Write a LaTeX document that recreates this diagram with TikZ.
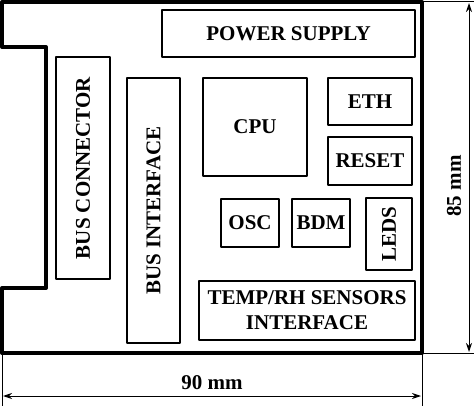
\documentclass[tikz,border=0pt]{standalone}
\usepackage{fontspec}
\setmainfont{Liberation Serif}
\usetikzlibrary{arrows.meta}
\begin{document}
\begin{tikzpicture}[x=1pt,y=-1pt,line join=round,>={Stealth[length=9pt,width=6pt]},thick]
	\tikzset{every node/.style={font=\fontsize{21}{25}\selectfont\bfseries},
		blk/.style={draw,line width=2.5pt,inner sep=0pt,align=center},
		dimline/.style={line width=1pt}}
	\useasboundingbox (0,0) rectangle (474,406);
	% board outline
	\draw[line width=4pt] (2,2)--(422,2)--(422,353)--(2,353)--(2,288)--(46,288)--(46,47)--(2,47)--cycle;
	% blocks
	\node[blk,minimum width=253,minimum height=47] (power) at (288.5,33.5) {POWER SUPPLY};
	\node[blk,rotate=90,minimum width=222,minimum height=54] (busconn) at (83,168) {BUS CONNECTOR};
	\node[blk,rotate=90,minimum width=265,minimum height=53] (busif) at (153.5,210.5) {BUS INTERFACE};
	\node[blk,minimum width=104,minimum height=98] (cpu) at (255,127) {CPU};
	\node[blk,minimum width=84,minimum height=47] (eth) at (370,101.5) {ETH};
	\node[blk,minimum width=84,minimum height=48] (reset) at (370,161) {RESET};
	\node[blk,minimum width=58,minimum height=48] (osc) at (250,223) {OSC};
	\node[blk,minimum width=58,minimum height=48] (bdm) at (321,223) {BDM};
	\node[blk,rotate=90,minimum width=72,minimum height=46] (leds) at (389,234) {LEDS};
	\node[blk,minimum width=216,minimum height=59] (sensors) at (307,310.5) {TEMP/RH SENSORS\\INTERFACE};
	% dimensions
	\coordinate (wl) at (3,396);
	\coordinate (wr) at (421,396);
	\coordinate (ht) at (469,3);
	\coordinate (hb) at (469,352);
	\draw[dimline] (422,2)--(474,2);
	\draw[dimline] (422,353)--(474,353);
	\draw[dimline] (2,353)--(2,406);
	\draw[dimline] (422,353)--(422,406);
	\draw[dimline,<->] (wl)--(wr);
	\draw[dimline,<->] (ht)--(hb);
	\node (width) at (212,383) {90 mm};
	\node[rotate=90] (height) at (454,186) {85 mm};
\end{tikzpicture}
\end{document}
